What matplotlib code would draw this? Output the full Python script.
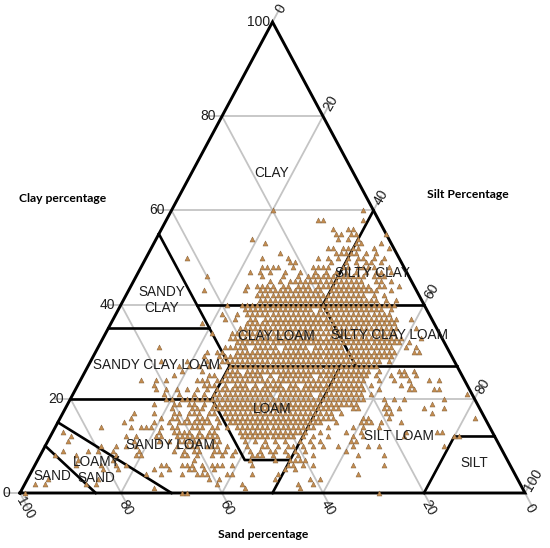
import matplotlib
matplotlib.use("Agg")
import matplotlib.pyplot as plt
import numpy as np

# silt percentage of every sample, one list per clay percentage
SILT_BY_CLAY = {
    60: [20, 38],
    58: [30, 31, 39],
    56: [34, 37, 38],
    55: [35, 36, 38, 39, 45],
    54: [19, 36, 38, 40],
    53: [22, 40, 41, 45],
    52: [35, 36, 38, 39, 40, 41, 44, 47],
    51: [26, 37, 38, 39, 40, 41, 43, 45],
    50: [8, 23, 28, 34, 36, 38, 40, 42, 43, 45, 47],
    49: [29, 30, 37, 40, 42, 44, 45, 47],
    48: [24, 25, 26, 27, 30, 34, 35, 36, 37, 40, 41, 43, 44, 45, 46, 49],
    47: [22, 24, 26, 29, 32, 35, 37, 39, 41, 43, 45, 47, 48, 50],
    46: [14, 25, 29, 32, 34, 35, 36, 37, 38, 39, 40, 41, 42, 43, 44, 45, 47, 48, 49],
    45: [27, 29, 31, 32, 33, 34, 35, 36, 37, 38, 39, 40, 41, 42, 43, 44, 45, 48, 49, 51],
    44: [23, 25, 26, 27, 28, 30, 31, 33, 34, 35, 37, 38, 39, 40, 41, 42, 43, 44, 45, 46, 47, 49, 50, 53],
    43: [15, 23, 26, 27, 28, 29, 30, 31, 32, 33, 34, 35, 36, 37, 38, 40, 41, 42, 43, 44, 45, 46, 47, 48, 49, 52],
    42: [26, 27, 28, 29, 30, 31, 32, 33, 34, 35, 36, 37, 38, 39, 40, 41, 42, 43, 44, 45, 46, 47, 49, 51],
    41: [27, 28, 29, 30, 31, 32, 33, 34, 35, 36, 37, 38, 39, 40, 41, 42, 43, 44, 45, 46, 47, 48, 49, 50, 52, 54],
    40: [21, 24, 25, 26, 27, 28, 29, 30, 31, 32, 33, 34, 35, 36, 37, 38, 39, 40, 41, 42, 43, 44, 45, 46, 47, 48, 49, 50, 51, 52, 53, 54],
    39: [25, 26, 27, 28, 29, 30, 31, 32, 33, 34, 35, 36, 37, 38, 40, 41, 42, 43, 44, 45, 46, 47, 48, 49, 50, 51, 52, 54],
    38: [21, 24, 26, 27, 28, 29, 30, 31, 32, 33, 34, 35, 36, 37, 38, 39, 40, 41, 42, 43, 44, 45, 46, 47, 48, 49, 50, 51, 52, 53, 54],
    37: [22, 24, 27, 28, 30, 31, 32, 33, 34, 35, 36, 37, 38, 39, 40, 41, 42, 43, 44, 45, 46, 47, 48, 49, 50, 51, 52, 53, 54, 55, 56, 59],
    36: [18, 27, 28, 29, 30, 31, 32, 33, 34, 35, 36, 37, 38, 39, 40, 41, 42, 43, 44, 45, 46, 47, 48, 49, 50, 51, 52, 53, 54, 55, 56],
    35: [26, 27, 28, 29, 30, 31, 32, 33, 34, 35, 36, 37, 38, 39, 40, 41, 42, 43, 44, 45, 46, 47, 48, 49, 50, 51, 52, 53, 54, 55, 56, 57, 61],
    34: [21, 25, 26, 27, 28, 29, 30, 31, 32, 33, 34, 35, 36, 37, 38, 39, 40, 41, 42, 43, 44, 45, 46, 47, 48, 49, 50, 51, 52, 53, 54, 55, 56, 57],
    33: [25, 26, 27, 28, 29, 30, 31, 32, 33, 34, 35, 36, 37, 38, 39, 40, 41, 42, 43, 44, 45, 46, 47, 48, 49, 50, 51, 52, 53, 54, 55, 56, 57, 58, 59, 63],
    32: [27, 28, 29, 30, 31, 32, 33, 34, 35, 36, 37, 38, 39, 40, 41, 42, 43, 44, 45, 46, 47, 48, 49, 50, 51, 52, 53, 54, 55, 56, 57, 58, 59, 61],
    31: [12, 25, 26, 27, 28, 29, 31, 32, 33, 34, 35, 37, 38, 39, 40, 41, 43, 44, 45, 46, 47, 48, 50, 51, 52, 53, 54, 55, 56, 57, 58, 61, 63],
    30: [22, 24, 25, 28, 29, 30, 31, 32, 33, 34, 35, 36, 37, 38, 39, 40, 41, 42, 43, 44, 45, 46, 47, 48, 49, 50, 51, 52, 53, 54, 55, 56, 57, 58, 59, 63, 64],
    29: [22, 25, 26, 27, 28, 29, 30, 31, 32, 33, 34, 35, 36, 37, 38, 39, 40, 41, 42, 43, 44, 45, 46, 47, 48, 49, 50, 51, 52, 53, 54, 55, 56, 57, 58, 59],
    28: [14, 19, 23, 26, 27, 28, 29, 30, 31, 32, 33, 34, 35, 36, 37, 38, 39, 40, 41, 42, 43, 44, 45, 46, 47, 48, 49, 50, 51, 52, 53, 54, 55, 56, 57, 59],
    27: [18, 20, 22, 24, 26, 28, 29, 30, 31, 32, 33, 34, 35, 36, 37, 38, 39, 40, 41, 42, 43, 44, 45, 46, 47, 48, 49, 50, 51, 52, 53, 54, 55, 56, 57],
    26: [19, 23, 28, 29, 30, 32, 33, 34, 35, 36, 37, 38, 39, 40, 41, 42, 43, 44, 45, 46, 47, 48, 49, 50, 51, 52, 53, 54, 55, 56, 58, 62, 63, 65],
    25: [18, 25, 26, 28, 29, 30, 31, 32, 33, 34, 35, 37, 39, 40, 41, 42, 43, 44, 45, 47, 48, 49, 50, 51, 52, 53, 54, 55, 56, 58, 61, 63, 64, 66],
    24: [12, 15, 17, 23, 24, 25, 27, 28, 29, 30, 31, 32, 33, 34, 35, 36, 37, 38, 39, 40, 41, 42, 43, 44, 45, 46, 47, 48, 49, 50, 51, 52, 53, 54, 55, 56, 59, 62, 65, 69, 71],
    23: [15, 25, 26, 27, 29, 31, 32, 33, 35, 37, 38, 39, 40, 42, 43, 45, 46, 47, 48, 49, 50, 51, 52, 53, 54, 55, 56, 58, 64, 66],
    22: [16, 18, 20, 22, 24, 26, 28, 29, 30, 31, 32, 33, 34, 35, 36, 37, 38, 39, 40, 41, 42, 43, 44, 45, 46, 47, 48, 49, 50, 51, 52, 53, 54, 55, 56, 57, 60, 66, 67, 71, 72],
    21: [18, 21, 24, 26, 28, 29, 30, 31, 32, 33, 34, 35, 36, 37, 38, 39, 41, 42, 43, 44, 45, 46, 47, 49, 50, 51, 52, 53, 54, 55, 56, 57, 59, 78],
    20: [19, 20, 22, 23, 24, 25, 26, 27, 28, 29, 30, 31, 32, 33, 34, 35, 36, 37, 38, 39, 40, 41, 42, 43, 44, 45, 46, 47, 48, 49, 50, 51, 52, 53, 54, 55, 56, 57, 58, 62, 64, 66, 74],
    19: [17, 21, 22, 24, 25, 27, 29, 30, 31, 32, 33, 34, 35, 36, 37, 38, 39, 40, 41, 42, 43, 44, 45, 46, 47, 48, 49, 50, 51, 52, 53, 54, 55, 56, 57, 63, 72],
    18: [21, 25, 26, 27, 29, 30, 31, 32, 33, 34, 35, 36, 37, 38, 39, 40, 41, 42, 43, 44, 45, 46, 47, 48, 49, 50, 51, 52, 53, 54, 57, 58, 63, 64, 66, 71, 75],
    17: [14, 18, 22, 23, 25, 26, 27, 29, 30, 32, 33, 34, 35, 36, 37, 38, 39, 40, 41, 42, 43, 44, 45, 46, 47, 48, 49, 50, 51, 52, 53, 55, 64, 65, 73],
    16: [14, 20, 22, 23, 25, 27, 28, 29, 31, 33, 34, 35, 36, 37, 38, 39, 40, 41, 42, 43, 44, 45, 46, 47, 48, 49, 50, 51, 52, 53, 54, 60, 61, 65, 82],
    15: [13, 19, 22, 24, 25, 26, 27, 28, 29, 30, 32, 34, 35, 36, 37, 38, 39, 40, 41, 42, 43, 44, 45, 46, 47, 48, 49, 50, 51, 52, 55, 60, 61, 62, 64, 68],
    14: [9, 15, 17, 18, 19, 21, 23, 24, 27, 28, 29, 31, 32, 34, 36, 37, 38, 39, 40, 41, 42, 43, 44, 45, 46, 47, 48, 49, 50, 51, 54, 59, 61, 64],
    13: [2, 21, 24, 25, 26, 27, 29, 31, 32, 37, 38, 39, 40, 41, 42, 43, 44, 45, 46, 47, 48, 49, 50, 53, 58, 61, 70, 76, 77],
    12: [4, 15, 17, 21, 22, 25, 26, 27, 28, 29, 30, 31, 32, 33, 38, 39, 40, 41, 42, 43, 44, 45, 46, 47, 48, 50, 52, 55, 60, 62, 70, 80, 81],
    11: [4, 17, 22, 24, 26, 27, 28, 29, 30, 33, 34, 39, 41, 43, 45, 47, 50, 52, 54, 60, 61],
    10: [11, 14, 16, 18, 26, 28, 29, 30, 32, 33, 34, 36, 40, 43, 44, 46, 48, 49, 51, 53, 55, 58, 61, 64, 66, 79],
    9: [4, 9, 11, 14, 19, 26, 28, 30, 31, 34, 35, 36, 38, 41, 43, 45, 46, 48, 50, 52, 60],
    8: [3, 7, 15, 19, 20, 28, 29, 31, 34, 36, 38, 42, 43, 44, 46, 49, 51, 54, 63, 68],
    7: [8, 15, 31, 42, 47, 50, 51, 52, 53],
    6: [8, 13, 16, 18, 25, 26, 29, 30, 31, 33, 35, 36, 37, 39, 43, 50, 51, 53, 55, 63, 69],
    5: [14, 17, 24, 27, 31, 32, 34, 36, 50, 52],
    4: [23, 26, 30, 33, 34, 35, 39, 40, 44, 49, 65],
    3: [4, 14, 36, 38, 49, 56, 58],
    2: [2, 4, 12, 14, 38, 43, 54, 57],
    1: [26, 44, 55],
    0: [1, 32, 33, 71],
}

GRID_VALUES = [20, 40, 60, 80]
CLAY_TICKS = [0, 20, 40, 60, 80, 100]
SILT_TICKS = [0, 20, 40, 60, 80, 100]
SAND_TICKS = [100, 80, 60, 40, 20, 0]

# texture class boundaries as (clay, silt) vertices
BOUNDARIES = [
    [(55, 0), (27, 28)],
    [(35, 0), (35, 20)],
    [(20, 0), (20, 28)],
    [(40, 15), (40, 60)],
    [(60, 40), (40, 40), (27, 53)],
    [(27, 28), (27, 73)],
    [(27, 28), (20, 28), (7, 41), (7, 50)],
    [(27, 50), (0, 50)],
    [(15, 0), (0, 30)],
    [(10, 0), (0, 15)],
    [(12, 88), (12, 80), (0, 80)],
]

# name, clay, silt of the label centre
CLASS_LABELS = [
    ("CLAY", 67.9, 15.9),
    ("SANDY\nCLAY", 41, 7.6),
    ("SILTY CLAY", 46.7, 46.5),
    ("CLAY LOAM", 33.3, 34.2),
    ("SILTY CLAY LOAM", 33.5, 56.5),
    ("SANDY CLAY LOAM", 27.2, 13.5),
    ("LOAM", 17.8, 41),
    ("SANDY LOAM", 10.2, 24.6),
    ("SILT LOAM", 12.1, 68.9),
    ("SILT", 6.4, 86.8),
    ("LOAMY\nSAND", 4.9, 12.7),
    ("SAND", 3.6, 4.5),
]

LEFT_X, RIGHT_X, BASE_Y, APEX_Y = 20.0, 525.0, 493.0, 22.0


def to_xy(clay, silt):
    clay = np.asarray(clay, dtype=float)
    silt = np.asarray(silt, dtype=float)
    x = LEFT_X + (RIGHT_X - LEFT_X) * (silt + clay / 2) / 100
    y = BASE_Y - (BASE_Y - APEX_Y) * clay / 100
    return x, y


def draw_grid(ax):
    stub = 3
    for v in [0, 20, 40, 60, 80, 100]:
        # clay = v, runs to the left edge and a bit beyond
        if v in GRID_VALUES or v == 0:
            x, y = to_xy([v, v], [-stub, 100 - v])
            ax.plot(x, y, color="#c4c4c4", lw=1.3, zorder=1)
        # silt = v, a bit beyond the right edge
        x, y = to_xy([0, 100 - v + stub], [v, v])
        ax.plot(x, y, color="#c4c4c4", lw=1.3, zorder=1)
        # sand = v, a bit beyond the base
        x, y = to_xy([-stub, 100 - v], [100 - v + stub, 0])
        ax.plot(x, y, color="#c4c4c4", lw=1.3, zorder=1)


def main():
    fig = plt.figure(figsize=(5.5, 5.48), dpi=100)
    ax = fig.add_axes([0, 0, 1, 1])
    ax.set_xlim(0, 550)
    ax.set_ylim(548, 0)
    ax.axis("off")

    draw_grid(ax)

    x, y = to_xy([0, 100, 0, 0], [0, 0, 100, 0])
    ax.plot(x, y, color="black", lw=2.1, zorder=2, solid_joinstyle="miter")
    for verts in BOUNDARIES:
        clay, silt = zip(*verts)
        x, y = to_xy(clay, silt)
        ax.plot(x, y, color="black", lw=1.9, zorder=2)

    clay = np.concatenate([[c] * len(s) for c, s in SILT_BY_CLAY.items()])
    silt = np.concatenate([s for s in SILT_BY_CLAY.values()])
    x, y = to_xy(clay, silt)
    ax.scatter(x, y, marker="^", s=13, color="#c48d50", edgecolors="#84603a", linewidths=0.35, zorder=3)

    for name, c, s in CLASS_LABELS:
        x, y = to_xy(c, s)
        ax.text(x, y, name, ha="center", va="center", fontsize=9.8, family="Liberation Sans",
                color="#1c1c1c", linespacing=1.2, zorder=4)

    for v in CLAY_TICKS:
        x, y = to_xy(v, 0)
        ax.text(x - 14, y, str(v), ha="center", va="center", fontsize=10, family="Liberation Sans", color="#1c1c1c")
    for v in SILT_TICKS:
        x, y = to_xy(100 - v, v)
        ax.text(x + 8, y - 13, str(v), ha="center", va="center", rotation=60, fontsize=10,
                family="Liberation Sans", color="#1c1c1c")
    for v in SAND_TICKS:
        x, y = to_xy(0, 100 - v)
        ax.text(x + 5, y + 15, str(v), ha="center", va="center", rotation=-60, fontsize=10,
                family="Liberation Sans", color="#1c1c1c")

    ax.text(63, 199, "Clay percentage", ha="center", va="center", fontsize=8.7, family="Lato", weight="bold")
    ax.text(468, 194, "Silt Percentage", ha="center", va="center", fontsize=8.7, family="Lato", weight="bold")
    ax.text(263, 534, "Sand percentage", ha="center", va="center", fontsize=8.7, family="Lato", weight="bold")

    fig.savefig("out.png", dpi=100)


if __name__ == "__main__":
    main()
